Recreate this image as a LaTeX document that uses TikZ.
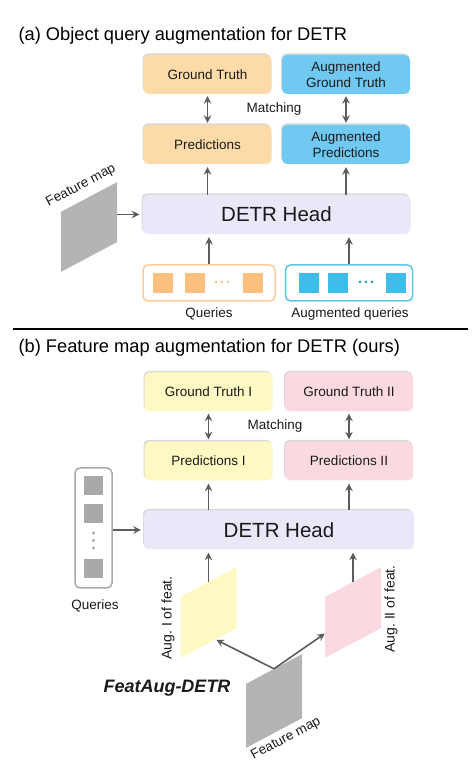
\documentclass[tikz,border=0pt]{standalone}
\usepackage{fontspec}
\setmainfont{Liberation Sans}
\usetikzlibrary{arrows.meta,shadows,calc}

\definecolor{gtorange}{HTML}{FCDBA8}
\definecolor{augblue}{HTML}{6FC9F1}
\definecolor{qorange}{HTML}{FBC07E}
\definecolor{qblue}{HTML}{3FBDEA}
\definecolor{headlav}{HTML}{E9E7F8}
\definecolor{augyellow}{HTML}{FEF8C2}
\definecolor{augpink}{HTML}{FADAE0}
\definecolor{mapgray}{HTML}{B4B4B4}
\definecolor{sqgray}{HTML}{A9A9A9}
\definecolor{arrowgray}{HTML}{5C5C5C}
\definecolor{textblack}{HTML}{1A1A1A}

\begin{document}
\begin{tikzpicture}[x=1pt,y=1pt,>={Stealth[length=7.5pt,width=7.5pt,inset=2.5pt]}]
\useasboundingbox (0,0) rectangle (474,770);
\tikzset{BoxStyle/.style = {rectangle, rounded corners=5pt, minimum width=128pt,
                            minimum height=39pt, align=center, inner sep=2pt,
                            text=textblack, font=\fontsize{13.5}{16}\selectfont,
                            drop shadow={shadow xshift=-1pt, shadow yshift=1.5pt,
                                         opacity=0.3, fill=gray}},
         HeadStyle/.style = {BoxStyle, fill=headlav, minimum width=268pt,
                             font=\fontsize{20.5}{22}\selectfont},
         LabelStyle/.style = {text=textblack, inner sep=1pt,
                              font=\fontsize{13.5}{16}\selectfont},
         MapStyle/.style = {rectangle, yslant=0.53, minimum width=56pt, inner sep=0pt},
         QueryStyle/.style = {rectangle, rounded corners=5pt, fill=white,
                              line width=1.5pt, minimum height=36pt},
         SquareStyle/.style = {rectangle, minimum size=20pt, inner sep=0pt},
         ArrowStyle/.style = {->, draw=arrowgray, line width=1.6pt, shorten >=3pt},
         DoubleStyle/.style = {<->, draw=arrowgray, line width=1.6pt,
                               shorten >=2pt, shorten <=2pt}
  }

% (a) object query augmentation
\node[anchor=base west, font=\fontsize{18.3}{20}\selectfont] (titleA) at (15,729)
     {(a) Object query augmentation for DETR};
\node[BoxStyle, fill=gtorange] (gtA) at (207.5,695.5) {Ground Truth};
\node[BoxStyle, fill=augblue] (agtA) at (346,695.5) {Augmented\\Ground Truth};
\node[BoxStyle, fill=gtorange] (predA) at (207.5,625.5) {Predictions};
\node[BoxStyle, fill=augblue] (apredA) at (346,625.5) {Augmented\\Predictions};
\node[LabelStyle] (matchA) at (274,661) {Matching};
\node[HeadStyle] (headA) at (276.5,555.5) {DETR Head};

\node[MapStyle, fill=mapgray, minimum height=60pt] (mapA) at (89,543) {};
\node[LabelStyle, rotate=28] (mapAlabel) at (81,584) {Feature map};

\node[QueryStyle, draw=qorange!80, minimum width=132pt] (qA) at (209,487) {};
\node[QueryStyle, draw=qblue!85, minimum width=127pt] (aqA) at (349,487) {};
\node[SquareStyle, fill=qorange] (qA1) at (163,487) {};
\node[SquareStyle, fill=qorange] (qA2) at (194.5,487) {};
\node[SquareStyle, fill=qorange] (qA3) at (253,487) {};
\node[SquareStyle, fill=qblue] (aqA1) at (309,487) {};
\node[SquareStyle, fill=qblue] (aqA2) at (338,487) {};
\node[SquareStyle, fill=qblue] (aqA3) at (396,487) {};
\foreach \i in {-1,0,1}{
  \fill[qorange] (222+6*\i,488) circle (1.3pt);
  \fill[qblue!80!black] (366+6*\i,488) circle (1.5pt);
}
\node[LabelStyle] (qAlabel) at (209,456) {Queries};
\node[LabelStyle] (aqAlabel) at (350,456) {Augmented queries};

\draw[DoubleStyle] (gtA.south) -- (predA.north);
\draw[DoubleStyle] (agtA.south) -- (apredA.north);
%-----------------------------
\draw[ArrowStyle] (headA.north -| predA) -- (predA.south);
\draw[ArrowStyle] (headA.north -| apredA) -- (apredA.south);
%-----------------------------
\draw[ArrowStyle] (mapA.east |- headA) -- (headA.west);
\draw[ArrowStyle] (qA.north) -- (qA.north |- headA.south);
\draw[ArrowStyle] (aqA.north) -- (aqA.north |- headA.south);

% separator
\coordinate (sepL) at (13,441);
\coordinate (sepR) at (468,441);
\draw[line width=1.2pt] (sepL) -- (sepR);

% (b) feature map augmentation
\node[anchor=base west, font=\fontsize{18.3}{20}\selectfont] (titleB) at (15,417)
     {(b) Feature map augmentation for DETR (ours)};
\node[BoxStyle, fill=augyellow] (gtB) at (208.5,378) {Ground Truth I};
\node[BoxStyle, fill=augpink] (agtB) at (349,378) {Ground Truth II};
\node[BoxStyle, fill=augyellow] (predB) at (208.5,309) {Predictions I};
\node[BoxStyle, fill=augpink] (apredB) at (349,309) {Predictions II};
\node[LabelStyle] (matchB) at (275,344) {Matching};
\node[HeadStyle, minimum width=270pt] (headB) at (279,240) {DETR Head};

\node[QueryStyle, draw=sqgray, minimum width=37pt, minimum height=120pt] (qB) at (93.5,242) {};
\node[SquareStyle, fill=sqgray, minimum size=19pt] (qB1) at (93.5,284) {};
\node[SquareStyle, fill=sqgray, minimum size=19pt] (qB2) at (93.5,256) {};
\node[SquareStyle, fill=sqgray, minimum size=19pt] (qB3) at (93.5,201.5) {};
\foreach \i in {0,1,2}{
  \fill[sqgray] (93.5,237-7.5*\i) circle (1.6pt);
}
\node[LabelStyle] (qBlabel) at (95,164) {Queries};

\node[MapStyle, fill=augyellow, minimum height=61pt] (augI) at (208.5,157.5) {};
\node[MapStyle, fill=augpink, minimum height=61pt] (augII) at (353,157.5) {};
\node[MapStyle, fill=mapgray, minimum height=64pt] (mapB) at (274,69) {};
\node[LabelStyle, rotate=90, font=\fontsize{14}{16}\selectfont] (augIlabel) at (168,152) {Aug.\ I of feat.};
\node[LabelStyle, rotate=90, font=\fontsize{14}{16}\selectfont] (augIIlabel) at (391,161) {Aug.\ II of feat.};
\node[LabelStyle, rotate=28] (mapBlabel) at (286,31) {Feature map};
\node[text=textblack, font=\fontsize{18}{20}\selectfont\bfseries\itshape] (feataug) at (167,82) {FeatAug-DETR};

\draw[DoubleStyle] (gtB.south) -- (predB.north);
\draw[DoubleStyle] (agtB.south) -- (apredB.north);
%-----------------------------
\draw[ArrowStyle] (headB.north -| predB) -- (predB.south);
\draw[ArrowStyle] (headB.north -| apredB) -- (apredB.south);
%-----------------------------
\draw[ArrowStyle] (qB.east |- headB) -- (headB.west);
\draw[ArrowStyle] (augI.north) -- (augI.north |- headB.south);
\draw[ArrowStyle] (augII.north) -- (augII.north |- headB.south);
%-----------------------------
\draw[ArrowStyle, shorten >=1pt] (mapB.north) -- ($(augI.south)!0.25!(augI.south east)$);
\draw[ArrowStyle, shorten >=0pt] (mapB.north) -- ($(augII.west)!0.2!(augII.south west)$);

\end{tikzpicture}
\end{document}
